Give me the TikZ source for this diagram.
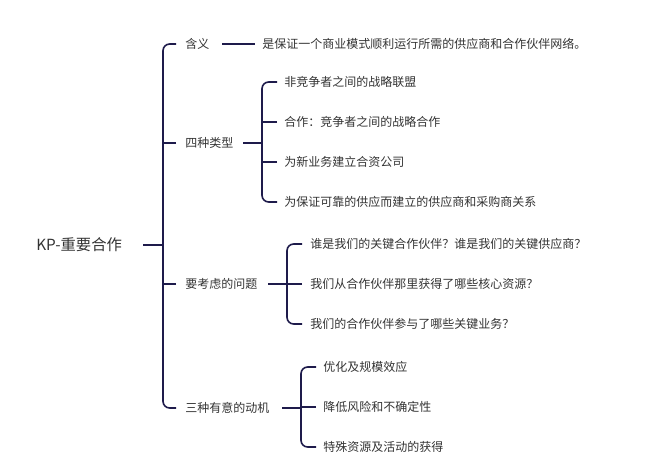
\documentclass[tikz,border=0pt]{standalone}
\usepackage{fontspec}
\setmainfont{Noto Sans CJK SC}
\begin{document}
\begin{tikzpicture}[x=0.75pt,y=-0.75pt,
  ln/.style={draw=lc,line width=1.2pt,rounded corners=5pt},
  tx/.style={anchor=west,inner sep=0pt,text=tc,font=\fontsize{9}{10}\selectfont},
  stub/.style={draw=lc,line width=1.8pt}]
\definecolor{lc}{HTML}{1E1B4B}
\definecolor{tc}{HTML}{333333}
\useasboundingbox (0,0) rectangle (651,454);
\node[tx,font=\fontsize{11.5}{12}\selectfont] (root) at (36,245) {KP-重要合作};
\draw[stub] (143,245) -- (160,245);
% trunk
\node[tx] (a) at (185,44) {含义};
\node[tx] (b) at (185,143) {四种类型};
\node[tx] (c) at (185,284) {要考虑的问题};
\node[tx] (d) at (185,408) {三种有意的动机};
\draw[ln] (176,44) -- (163,44) -- (163,408) -- (176,408);
\draw[ln] (176,143) -- (163,143);
\draw[ln] (176,284) -- (163,284);
\draw[ln] (160,245) -- (163,245);
% a
\node[tx] (a1) at (262,44) {是保证一个商业模式顺利运行所需的供应商和合作伙伴网络。};
\draw[stub,line width=1.2pt] (222,44) -- (255,44);
% b
\draw[stub] (243,143) -- (262,143);
\node[tx] (b1) at (284,82) {非竞争者之间的战略联盟};
\node[tx] (b2) at (284,122) {合作：竞争者之间的战略合作};
\node[tx] (b3) at (284,162) {为新业务建立合资公司};
\node[tx] (b4) at (284,202) {为保证可靠的供应而建立的供应商和采购商关系};
\draw[ln] (277,82) -- (262,82) -- (262,202) -- (277,202);
\draw[ln] (277,122) -- (262,122);
\draw[ln] (277,162) -- (262,162);
% c
\draw[stub] (268,284) -- (287,284);
\node[tx] (c1) at (310,244) {谁是我们的关键合作伙伴？谁是我们的关键供应商？};
\node[tx] (c2) at (310,284) {我们从合作伙伴那里获得了哪些核心资源？};
\node[tx] (c3) at (310,324) {我们的合作伙伴参与了哪些关键业务？};
\draw[ln] (302,244) -- (287,244) -- (287,324) -- (302,324);
\draw[ln] (302,284) -- (287,284);
% d
\draw[stub] (282,408) -- (301,408);
\node[tx] (d1) at (323,367) {优化及规模效应};
\node[tx] (d2) at (323,407) {降低风险和不确定性};
\node[tx] (d3) at (323,447) {特殊资源及活动的获得};
\draw[ln] (316,367) -- (301,367) -- (301,447) -- (316,447);
\draw[ln] (316,407) -- (301,407);
\end{tikzpicture}
\end{document}
